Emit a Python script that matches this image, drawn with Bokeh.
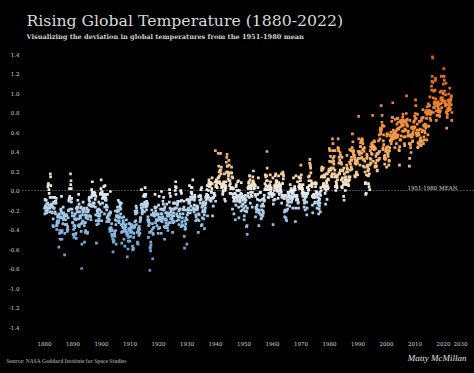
import numpy as np
from bokeh.plotting import figure
from bokeh.models import (ColumnDataSource, LinearColorMapper, FixedTicker,
                          PrintfTickFormatter, Label, GlobalInlineStyleSheet)
from bokeh.embed import file_html
from bokeh.resources import INLINE

# Monthly global temperature anomalies (deg C vs 1951-1980), Jan..Dec per year
anom_1880s = [
 -.18,-.24,-.09,-.16,-.10,-.21,-.18,-.10,-.14,-.23,-.21,-.17,
 -.19,-.13,.04,.06,.07,-.18,.01,-.03,-.15,-.22,-.18,-.07,
 .17,.14,.05,-.16,-.14,-.22,-.16,-.07,-.14,-.23,-.17,-.36,
 -.29,-.37,-.12,-.18,-.18,-.07,-.07,-.13,-.22,-.11,-.24,-.11,
 -.13,-.08,-.36,-.40,-.33,-.35,-.31,-.27,-.27,-.25,-.33,-.31,
 -.58,-.27,-.24,-.44,-.41,-.50,-.28,-.27,-.19,-.20,-.22,-.06,
 -.43,-.50,-.41,-.28,-.24,-.34,-.17,-.30,-.23,-.27,-.29,-.25,
 -.66,-.44,-.35,-.35,-.30,-.25,-.26,-.35,-.25,-.35,-.26,-.40,
 -.42,-.37,-.40,-.28,-.21,-.20,-.10,-.11,-.08,.02,-.06,-.19,
 -.09,.17,.06,.10,.02,-.12,-.08,-.19,-.23,-.26,-.33,-.33]
anom_1890s = [
 -.45,-.45,-.40,-.36,-.48,-.26,-.29,-.38,-.36,-.24,-.45,-.30,
 -.44,-.49,-.18,-.29,-.19,-.22,-.17,-.17,-.10,-.22,-.36,-.04,
 -.29,-.14,-.37,-.35,-.26,-.22,-.28,-.27,-.18,-.17,-.42,-.34,
 -.80,-.55,-.25,-.33,-.31,-.20,-.12,-.22,-.19,-.18,-.20,-.36,
 -.53,-.33,-.25,-.43,-.33,-.41,-.28,-.26,-.22,-.18,-.26,-.19,
 -.44,-.43,-.29,-.22,-.26,-.20,-.15,-.09,-.07,-.11,-.14,-.14,
 -.26,-.15,-.27,-.30,-.16,-.07,.01,-.05,-.02,.09,-.16,-.05,
 -.13,-.13,-.16,-.02,-.02,-.13,-.03,-.05,-.03,-.09,-.17,-.25,
 -.06,-.31,-.54,-.31,-.35,-.20,-.21,-.23,-.21,-.26,-.34,-.19,
 -.12,-.29,-.31,-.24,-.20,-.26,-.14,-.04,-.03,.02,.11,-.22]
anom_1900s = [
 -.31,-.01,-.02,-.08,-.13,-.04,-.04,-.06,-.05,.04,-.08,-.07,
 -.24,-.17,.05,-.04,-.10,-.05,-.08,-.10,-.15,-.20,-.32,-.28,
 -.17,-.04,-.27,-.26,-.29,-.32,-.24,-.25,-.25,-.30,-.39,-.42,
 -.22,-.01,-.23,-.38,-.39,-.41,-.34,-.45,-.46,-.47,-.41,-.50,
 -.63,-.53,-.46,-.51,-.52,-.46,-.45,-.43,-.47,-.30,-.21,-.41,
 -.35,-.55,-.26,-.31,-.27,-.26,-.22,-.17,-.20,-.26,-.10,-.21,
 -.28,-.33,-.31,-.12,-.27,-.16,-.18,-.14,-.24,-.19,-.35,-.13,
 -.43,-.54,-.28,-.36,-.42,-.38,-.33,-.31,-.34,-.27,-.50,-.39,
 -.42,-.38,-.57,-.40,-.36,-.37,-.35,-.41,-.30,-.43,-.45,-.43,
 -.68,-.46,-.45,-.60,-.52,-.48,-.39,-.34,-.40,-.41,-.34,-.52]
anom_1910s = [
 -.42,-.43,-.47,-.38,-.36,-.40,-.37,-.35,-.37,-.43,-.57,-.61,
 -.60,-.59,-.60,-.48,-.44,-.38,-.37,-.36,-.32,-.21,-.22,-.24,
 -.31,-.16,-.35,-.18,-.21,-.23,-.43,-.53,-.54,-.55,-.39,-.41,
 -.41,-.46,-.44,-.37,-.40,-.44,-.32,-.28,-.30,-.28,-.15,-.18,
 .01,-.14,-.22,-.24,-.20,-.22,-.21,-.14,-.17,-.06,-.14,-.05,
 -.22,-.04,-.12,.03,-.06,-.16,-.04,-.17,-.14,-.20,-.11,-.16,
 -.13,-.14,-.30,-.27,-.32,-.48,-.36,-.30,-.35,-.33,-.43,-.82,
 -.58,-.59,-.62,-.53,-.56,-.42,-.25,-.20,-.25,-.40,-.34,-.70,
 -.44,-.45,-.23,-.38,-.38,-.26,-.24,-.26,-.17,-.04,-.18,-.33,
 -.21,-.24,-.30,-.17,-.30,-.36,-.25,-.31,-.24,-.30,-.44,-.39]
anom_1920s = [
 -.15,-.27,-.06,-.28,-.30,-.38,-.28,-.28,-.19,-.24,-.31,-.44,
 -.01,-.19,-.24,-.32,-.29,-.27,-.11,-.20,-.14,-.07,-.20,-.19,
 -.37,-.50,-.17,-.29,-.38,-.30,-.23,-.33,-.36,-.30,-.14,-.23,
 -.26,-.38,-.26,-.41,-.35,-.23,-.26,-.33,-.24,-.12,.01,-.03,
 -.18,-.33,-.06,-.29,-.20,-.22,-.25,-.29,-.26,-.28,-.19,-.43,
 -.31,-.33,-.13,-.23,-.26,-.32,-.19,-.13,-.13,-.18,.00,.04,
 .09,-.04,.03,-.18,-.24,-.31,-.26,-.15,-.13,-.11,-.11,-.27,
 -.30,-.21,-.35,-.27,-.19,-.27,-.19,-.24,-.11,.00,-.01,-.37,
 -.03,-.10,-.32,-.35,-.28,-.36,-.19,-.24,-.19,-.20,-.11,-.17,
 -.47,-.59,-.31,-.40,-.37,-.39,-.34,-.28,-.20,-.20,-.10,-.55]
anom_1930s = [
 -.30,-.25,-.09,-.20,-.23,-.20,-.18,-.13,-.11,-.10,.05,-.13,
 -.10,-.23,-.07,-.20,-.16,-.02,.03,-.02,-.04,.03,-.09,-.07,
 .11,-.18,-.19,-.07,-.19,-.22,-.15,-.10,-.05,-.07,-.19,-.19,
 -.31,-.25,-.27,-.16,-.20,-.30,-.18,-.16,-.19,-.17,-.30,-.43,
 -.24,-.06,-.31,-.25,-.06,-.10,-.06,-.05,-.13,-.06,.01,-.09,
 -.36,.03,-.17,-.35,-.28,-.22,-.16,-.14,-.20,-.12,-.29,-.20,
 -.25,-.39,-.22,-.21,-.15,-.18,-.07,-.13,-.10,-.06,-.04,.01,
 -.08,.05,-.26,-.07,-.05,-.07,.00,.07,.11,.08,.04,-.10,
 .08,.05,.06,.08,-.08,-.11,-.02,-.01,.02,.13,.07,-.26,
 -.08,-.07,-.16,-.07,-.07,-.03,-.03,-.05,-.05,-.05,.09,.41]
anom_1940s = [
 -.11,.04,.06,.11,.05,.09,.09,.03,.08,.09,.13,.38,
 .13,.25,.08,.19,.15,.09,.20,.21,.07,.38,.21,.17,
 .24,.03,.05,.06,.05,.06,-.04,-.02,.00,.07,.09,.07,
 .04,.17,-.09,.02,.00,-.11,.05,.03,.09,.29,.19,.34,
 .37,.25,.25,.18,.19,.12,.15,.17,.31,.26,.10,.05,
 .10,-.03,.07,.18,.02,-.03,.03,.24,.18,.14,.03,-.19,
 .13,-.04,-.07,.02,-.11,-.24,-.08,-.09,-.07,-.03,-.03,-.30,
 -.11,-.15,.04,.06,-.05,.00,-.07,-.06,-.09,.09,.00,-.11,
 .10,-.17,-.28,-.06,.00,-.05,-.12,-.09,-.11,-.07,-.03,-.21,
 .08,-.16,-.04,-.07,-.07,-.20,-.14,-.10,-.14,-.06,-.08,-.18]
anom_1950s = [
 -.30,-.26,-.08,-.21,-.12,-.05,-.09,-.16,-.10,-.21,-.37,-.22,
 -.36,-.45,-.18,-.06,.03,-.03,.02,.08,.05,.09,-.07,.15,
 .15,.11,-.13,.03,-.02,-.05,.02,.06,.05,-.06,-.17,-.02,
 .08,.14,.10,.20,.08,.07,.02,.03,.06,.05,-.04,.05,
 -.27,-.06,-.18,-.17,-.22,-.19,-.19,-.15,-.09,-.04,.03,-.20,
 .13,-.20,-.36,-.23,-.23,-.10,-.10,-.02,-.10,-.02,-.25,-.29,
 -.16,-.28,-.20,-.20,-.25,-.09,-.14,-.26,-.21,-.23,-.16,-.08,
 -.11,-.05,-.10,.01,.07,.16,.02,.14,.05,.01,.10,.15,
 .40,.23,.10,.01,.04,-.07,.04,-.07,-.03,.01,.04,-.04,
 .06,.05,.16,.09,-.01,.03,.02,-.03,-.03,-.06,-.06,-.04]
anom_1960s = [
 -.03,.13,-.35,-.14,-.10,-.04,-.04,.00,.05,.03,-.09,.15,
 .04,.17,.07,.10,.10,.09,.00,.02,.05,-.01,.04,-.08,
 .05,.15,.08,.05,-.04,-.01,.06,.02,.00,.02,.05,.00,
 -.02,.17,-.13,-.07,-.05,.07,.07,.19,.17,.12,.15,-.05,
 -.08,-.08,-.22,-.27,-.20,-.05,-.05,-.21,-.28,-.30,-.21,-.31,
 -.07,-.15,-.10,-.19,-.12,-.02,-.10,-.04,-.12,-.04,-.07,-.06,
 -.16,-.01,.06,-.08,-.06,.00,.02,-.12,-.01,-.10,-.03,-.07,
 -.08,-.18,.00,-.03,.13,-.06,.00,.02,-.06,.04,-.05,.01,
 -.32,-.18,.15,-.05,-.10,-.07,-.07,-.05,-.09,.09,-.09,-.13,
 -.12,-.18,.04,.14,.13,.06,.02,.02,.06,.10,.13,.26]
anom_1970s = [
 .04,.16,.02,.05,-.03,.00,.02,-.06,.06,-.02,-.04,-.10,
 -.03,-.17,-.13,-.10,-.07,-.20,-.07,-.03,-.04,-.05,-.06,-.12,
 -.25,-.18,.03,-.03,-.03,.03,.00,.14,.01,.10,.05,.15,
 .28,.32,.27,.25,.23,.18,.10,.06,.05,.08,.04,-.06,
 -.15,-.23,-.05,-.06,-.07,-.04,-.07,.07,-.07,-.13,-.06,-.12,
 .08,.04,.07,-.01,.07,-.04,-.02,-.18,-.03,-.07,-.12,-.14,
 -.04,-.11,-.24,-.08,-.19,-.16,-.09,-.13,-.02,-.22,-.05,.03,
 .00,.14,.21,.23,.24,.21,.15,.14,.04,.06,.23,.07,
 .07,.14,.16,.14,.02,-.03,.04,-.14,.05,.00,.17,.10,
 .08,-.09,.17,.05,.02,.12,.03,.11,.19,.21,.22,.43]
anom_1980s = [
 .30,.41,.30,.30,.35,.21,.23,.23,.15,.14,.29,.17,
 .53,.41,.48,.33,.23,.30,.27,.35,.17,.14,.21,.41,
 .04,.14,.00,.09,.15,.07,.05,.03,.14,.11,.16,.44,
 .53,.43,.41,.28,.34,.18,.17,.31,.39,.21,.36,.20,
 .29,.11,.27,.04,.34,.03,.13,.21,.20,.09,.06,-.06,
 .23,-.10,.17,.07,.12,.11,.00,.14,.09,.11,.06,.19,
 .26,.36,.23,.22,.19,.11,.07,.10,.05,.14,.11,.11,
 .29,.42,.14,.21,.27,.31,.41,.24,.34,.31,.22,.44,
 .58,.40,.50,.40,.38,.41,.36,.36,.36,.33,.15,.28,
 .14,.31,.31,.27,.17,.19,.31,.31,.30,.28,.16,.33]
anom_1990s = [
 .40,.40,.76,.53,.40,.37,.40,.33,.26,.45,.49,.45,
 .39,.51,.38,.52,.34,.53,.51,.42,.48,.32,.25,.32,
 .43,.40,.44,.24,.30,.19,.07,.08,-.04,.07,-.03,.16,
 .33,.37,.35,.26,.24,.20,.21,.15,.07,.22,.04,.17,
 .26,.01,.33,.41,.28,.45,.32,.28,.38,.48,.43,.37,
 .49,.77,.45,.46,.30,.45,.44,.51,.42,.50,.44,.24,
 .25,.43,.28,.35,.25,.25,.37,.31,.20,.21,.38,.38,
 .31,.38,.51,.32,.40,.57,.33,.40,.53,.62,.64,.58,
 .60,.87,.63,.63,.70,.77,.67,.66,.42,.44,.51,.57,
 .47,.66,.33,.35,.27,.36,.32,.33,.40,.42,.42,.44]
anom_2000s = [
 .24,.56,.58,.58,.38,.45,.35,.38,.41,.26,.31,.30,
 .41,.44,.56,.51,.57,.52,.60,.48,.53,.51,.71,.55,
 .75,.75,.90,.57,.62,.53,.59,.55,.60,.55,.58,.44,
 .73,.56,.58,.54,.61,.48,.55,.68,.63,.74,.55,.74,
 .57,.70,.64,.63,.42,.41,.26,.45,.52,.65,.71,.52,
 .72,.56,.69,.70,.66,.67,.67,.61,.75,.78,.72,.67,
 .55,.70,.61,.48,.46,.63,.55,.71,.62,.70,.72,.79,
 .97,.68,.67,.73,.66,.56,.60,.57,.61,.57,.56,.48,
 .25,.33,.72,.48,.47,.44,.55,.39,.57,.64,.65,.55,
 .58,.50,.51,.57,.60,.63,.70,.65,.71,.65,.76,.65]
anom_2010s = [
 .73,.79,.93,.87,.74,.59,.58,.62,.56,.68,.78,.44,
 .49,.45,.59,.62,.48,.57,.71,.71,.51,.63,.52,.54,
 .47,.46,.50,.72,.74,.60,.51,.62,.75,.83,.75,.48,
 .67,.55,.66,.52,.61,.66,.59,.68,.80,.64,.82,.66,
 .74,.52,.78,.79,.86,.66,.57,.82,.89,.80,.66,.79,
 .82,.87,.96,.74,.78,.79,.72,.79,.81,1.07,1.03,1.12,
 1.17,1.37,1.36,1.11,.95,.80,.85,1.02,.90,.89,.91,.86,
 1.03,1.13,1.15,.94,.90,.72,.82,.87,.77,.90,.87,.91,
 .81,.85,.90,.88,.83,.77,.81,.76,.80,1.01,.82,.89,
 .93,.95,1.17,1.02,.85,.90,.95,.94,.92,1.00,.99,1.09]
anom_2020s = [
 1.17,1.25,1.17,1.13,1.02,.92,.90,.87,.98,.88,1.10,.80,
 .81,.64,.88,.75,.78,.84,.92,.82,.92,.99,.93,.86,
 .91,.89,1.05,.83,.84,.92,.93,.95,.88,.97,.72,.80]

decade_starts = [1880, 1890, 1900, 1910, 1920, 1930, 1940, 1950,
                 1960, 1970, 1980, 1990, 2000, 2010, 2020]
decade_values = [anom_1880s, anom_1890s, anom_1900s, anom_1910s, anom_1920s,
                 anom_1930s, anom_1940s, anom_1950s, anom_1960s, anom_1970s,
                 anom_1980s, anom_1990s, anom_2000s, anom_2010s, anom_2020s]

x_tick_years = [1880, 1890, 1900, 1910, 1920, 1930, 1940, 1950, 1960,
                1970, 1980, 1990, 2000, 2010, 2020, 2030]
y_tick_values = [-1.4, -1.2, -1.0, -0.8, -0.6, -0.4, -0.2, 0.0,
                 0.2, 0.4, 0.6, 0.8, 1.0, 1.2, 1.4]

dates, vals = [], []
for start, arr in zip(decade_starts, decade_values):
    for i, v in enumerate(arr):
        dates.append(start + i / 12.0 + 1 / 24.0)
        vals.append(v)

src = ColumnDataSource(dict(date=dates, anomaly=vals))

# diverging blue - white - orange palette
anchors = [(-1.4, "#2a65a6"), (-1.0, "#4a86c2"), (-0.6, "#6ea3d3"),
           (-0.3, "#95c0e3"), (-0.1, "#c7dcee"), (0.0, "#eeeeee"),
           (0.1, "#f6ddb8"), (0.3, "#f5b670"), (0.6, "#f09543"),
           (1.0, "#e97524"), (1.4, "#da5614")]
def hex2rgb(h):
    return [int(h[i:i + 2], 16) for i in (1, 3, 5)]
grid = np.linspace(-1.4, 1.4, 281)
av = [a for a, _ in anchors]
rgbs = np.array([hex2rgb(c) for _, c in anchors], dtype=float)
palette = []
for g in grid:
    r = np.interp(g, av, rgbs[:, 0]); gg = np.interp(g, av, rgbs[:, 1]); b = np.interp(g, av, rgbs[:, 2])
    palette.append("#%02x%02x%02x" % (int(round(r)), int(round(gg)), int(round(b))))
mapper = LinearColorMapper(palette=palette, low=-1.4, high=1.4)

# geometry: whole figure is the frame, axes drawn at fixed locations
W, H = 474, 373
PX_X = 2.85          # px per year
PX_Y = 97.5          # px per degree
X0_PX = 44           # px position of 1880
Y0_PX = 190          # px position of 0.0 (from top)
x_start = 1880 - X0_PX / PX_X
x_end = 1880 + (W - X0_PX) / PX_X
y_top = Y0_PX / PX_Y
y_bot = -(H - Y0_PX) / PX_Y
yaxis_x = 1880 - (X0_PX - 22) / PX_X      # y axis sits at px 22
xaxis_y = -(334 - Y0_PX) / PX_Y           # x axis sits at px 334

p = figure(width=W, height=H, output_backend="svg", toolbar_location=None,
           x_range=(x_start, x_end), y_range=(y_bot, y_top),
           background_fill_color="black", border_fill_color="black",
           outline_line_color=None, min_border=0,
           min_border_left=0, min_border_right=0, min_border_top=0, min_border_bottom=0)
p.stylesheets = [GlobalInlineStyleSheet(css="html, body { background: #000000; }")]
p.xgrid.visible = False
p.ygrid.visible = False

# 1951-1980 mean reference line
p.segment(x0=[yaxis_x], y0=[0], x1=[x_end], y1=[0], line_color="#8a8a8a",
          line_dash="1 2", line_width=1)

p.scatter("date", "anomaly", source=src, marker="square", size=2.7,
          line_color=None, fill_color={"field": "anomaly", "transform": mapper})

# axes
lab_col = "#d6d6d6"
ticks_x = x_tick_years[:-1] + [2026.0]
p.xaxis.ticker = FixedTicker(ticks=ticks_x)
p.xaxis.major_label_overrides = {ticks_x[-1]: str(x_tick_years[-1])}
p.yaxis.ticker = FixedTicker(ticks=y_tick_values)
p.yaxis.formatter = PrintfTickFormatter(format="%.1f")
p.xaxis.fixed_location = xaxis_y
p.yaxis.fixed_location = yaxis_x
for ax in (p.xaxis[0], p.yaxis[0]):
    ax.axis_line_color = None
    ax.major_tick_line_color = None
    ax.minor_tick_line_color = None
    ax.major_tick_out = 0
    ax.major_tick_in = 0
    ax.minor_tick_out = 0
    ax.minor_tick_in = 0
    ax.major_label_text_color = lab_col
    ax.major_label_text_font = "DejaVu Serif"
    ax.major_label_text_font_size = "5.5px"
p.xaxis.major_label_standoff = 6
p.yaxis.major_label_standoff = 3

p.add_layout(Label(x=457, y=H - 187, x_units="screen", y_units="screen",
                   text="1951-1980 MEAN", text_align="right",
                   text_baseline="alphabetic", text_font="DejaVu Serif",
                   text_font_size="5.5px", text_color="#dddddd"))
p.add_layout(Label(x=26, y=H - 20, x_units="screen", y_units="screen",
                   text="Rising Global Temperature (1880-2022)", text_font="DejaVu Serif",
                   text_font_size="15.7px", text_color="#dadada", text_baseline="alphabetic"))
p.add_layout(Label(x=26, y=H - 36, x_units="screen", y_units="screen",
                   text="Visualizing the deviation in global temperatures from the 1951-1980 mean",
                   text_font="DejaVu Serif", text_font_style="bold", text_font_size="6.6px",
                   text_color="#d0d0d0", text_baseline="alphabetic"))
p.add_layout(Label(x=6, y=H - 360, x_units="screen", y_units="screen",
                   text="Source: NASA Goddard Institute for Space Studies",
                   text_font="Liberation Serif", text_font_style="bold", text_font_size="5.5px",
                   text_color="#8a8a8a", text_baseline="alphabetic"))
p.add_layout(Label(x=466, y=H - 357, x_units="screen", y_units="screen",
                   text="Matty McMillan", text_font="Liberation Serif",
                   text_font_style="italic", text_font_size="9px",
                   text_color="#e0e0e0", text_baseline="middle", text_align="right"))

open("out.html", "w").write(file_html(p, INLINE))
